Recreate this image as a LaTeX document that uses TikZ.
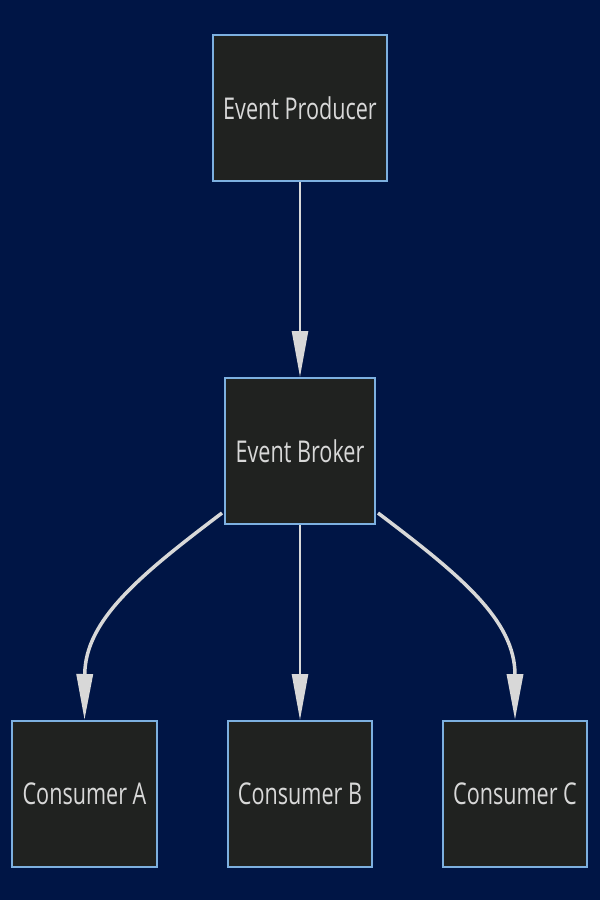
\documentclass[tikz,border=0pt]{standalone}
\usepackage{fontspec}
\setmainfont{Open Sans}
\usetikzlibrary{arrows.meta}
\definecolor{bg}{HTML}{001545}
\definecolor{boxfill}{HTML}{202220}
\definecolor{boxline}{HTML}{7DB0E0}
\definecolor{txt}{HTML}{D8D8D8}
\newcommand{\lbl}[1]{\scalebox{0.72}[1]{#1}}
\begin{document}
\begin{tikzpicture}[x=1pt,y=-1pt,
  box/.style={draw=boxline,line width=2pt,fill=boxfill,text=txt,font=\fontsize{30}{36}\selectfont,minimum height=146pt,inner sep=0pt,anchor=center},
  edge/.style={draw=txt,line width=2.5pt,-{Triangle[length=46pt,width=16pt,fill=txt]}}]
\fill[bg] (0,0) rectangle (600,900);
\useasboundingbox (0,0) rectangle (600,900);
\node[box,minimum width=174pt] (p) at (300,108) {\lbl{Event Producer}};
\node[box,minimum width=150pt] (b) at (300,451) {\lbl{Event Broker}};
\node[box,minimum width=145pt] (a) at (84.5,794) {\lbl{Consumer A}};
\node[box,minimum width=144pt] (bb) at (300,794) {\lbl{Consumer B}};
\node[box,minimum width=144pt] (c) at (515,794) {\lbl{Consumer C}};
\draw[edge] (p.south) -- (b.north);
\draw[edge] (b.south) -- (bb.north);
\draw[edge,line width=3.5pt] (b.south west) ++(-2,-12) .. controls (140,575) and (85,620) .. (a.north);
\draw[edge,line width=3.5pt] (b.south east) ++(2,-12) .. controls (460,575) and (515,620) .. (c.north);
\end{tikzpicture}
\end{document}
